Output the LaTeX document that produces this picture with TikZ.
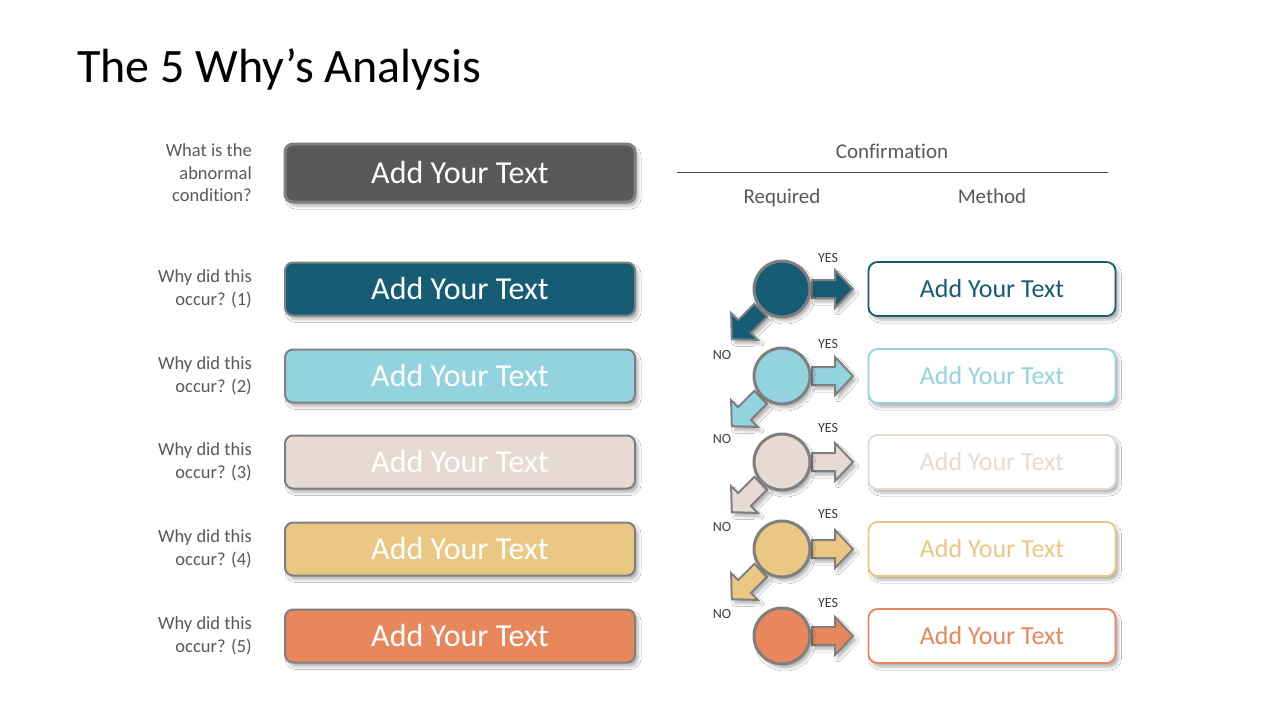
\documentclass[tikz,border=0pt]{standalone}
\usepackage{fontspec}
\setmainfont{Carlito}[Ligatures=NoCommon]
\usetikzlibrary{shadows.blur}
\definecolor{cgray}{HTML}{595959}
\definecolor{cteal}{HTML}{165C74}
\definecolor{cblue}{HTML}{92D3DF}
\definecolor{cbeige}{HTML}{E7DAD3}
\definecolor{cyel}{HTML}{EBC784}
\definecolor{corange}{HTML}{E8875B}
\definecolor{cedge}{HTML}{7F7F7F}
\definecolor{ctext}{HTML}{595959}
\tikzset{
  softshadow/.style={blur shadow={shadow xshift=3pt, shadow yshift=-4pt, shadow blur radius=3pt, shadow opacity=30}},
  mainbox/.style={draw=cedge, line width=2pt, rounded corners=8pt, fill=#1,
    minimum width=350pt, minimum height=53pt, inner sep=0pt, text=white,
    font=\fontsize{32}{36}\selectfont, softshadow},
  methodbox/.style={draw=#1, fill=white, line width=1.8pt, rounded corners=9pt,
    minimum width=247pt, minimum height=54pt, inner sep=0pt, text=#1,
    font=\fontsize{26}{30}\selectfont, softshadow},
  qlabel/.style={align=right, anchor=east, text=ctext, inner sep=0pt,
    font=\fontsize{18.5}{22.5}\selectfont},
  ball/.style={circle, draw=cedge, line width=3pt, fill=#1, minimum size=56pt,
    inner sep=0pt, softshadow},
  tinylab/.style={font=\fontsize{14}{16}\selectfont, text=ctext!70!black, inner sep=0pt},
  headlab/.style={font=\fontsize{21}{24}\selectfont, text=ctext, inner sep=0pt, anchor=base},
  flowarrow/.pic={\path[draw=cedge, fill=#1, line width=2pt, line join=miter, softshadow]
    (30,-9) -- (53,-9) -- (53,-19) -- (71,0) -- (53,19) -- (53,9) -- (30,9) -- cycle;}
}
\begin{document}
\begin{tikzpicture}[x=1pt,y=-1pt]
\useasboundingbox[fill=white] (0,0) rectangle (1280,720);
% title
\node[anchor=base west, inner sep=0pt, font=\fontsize{48}{54}\selectfont] (title) at (77,82) {The 5 Why’s Analysis};

% header on the right
\node[headlab] (conf) at (892,158) {Confirmation};
\coordinate (hl) at (677,172);
\coordinate (hr) at (1108,172);
\draw[line width=1pt, draw=ctext!80!black] (hl) -- (hr);
\node[headlab] (req) at (782,203) {Required};
\node[headlab] (meth) at (992,203) {Method};

% problem row
\node[mainbox=cgray, line width=3pt, minimum height=58pt] (b0) at (460,173) {Add Your Text};
\node[qlabel] (q0) at (252,173) {What is the\\abnormal\\condition?};

% why rows
\foreach \i/\y/\c in {1/289/cteal, 2/376/cblue, 3/462/cbeige, 4/549/cyel, 5/636/corange}{
  \node[mainbox=\c] (b\i) at (460,\y) {Add Your Text};
  \node[qlabel] (q\i) at (252,\y) {Why did this\\occur? (\i)};
  \node[methodbox=\c] (m\i) at (992,\y) {Add Your Text};
  \coordinate (c\i) at (782,\y);
}
% arrows (drawn before the circles)
\foreach \i/\c in {1/cteal, 2/cblue, 3/cbeige, 4/cyel, 5/corange}{
  \pic at (c\i) {flowarrow=\c};
}
\foreach \i/\c in {1/cteal, 2/cblue, 3/cbeige, 4/cyel}{
  \pic[rotate=225] at (c\i) {flowarrow=\c};
}
% circles
\foreach \i/\c in {1/cteal, 2/cblue, 3/cbeige, 4/cyel, 5/corange}{
  \node[ball=\c] (k\i) at (c\i) {};
}
% YES / NO labels
\foreach \i/\y in {1/258, 2/344, 3/428, 4/514, 5/603}{
  \node[tinylab] (yes\i) at (828,\y) {YES};
}
\foreach \i/\y in {2/355, 3/439, 4/527, 5/614}{
  \node[tinylab] (no\i) at (722,\y) {NO};
}
\end{tikzpicture}
\end{document}
